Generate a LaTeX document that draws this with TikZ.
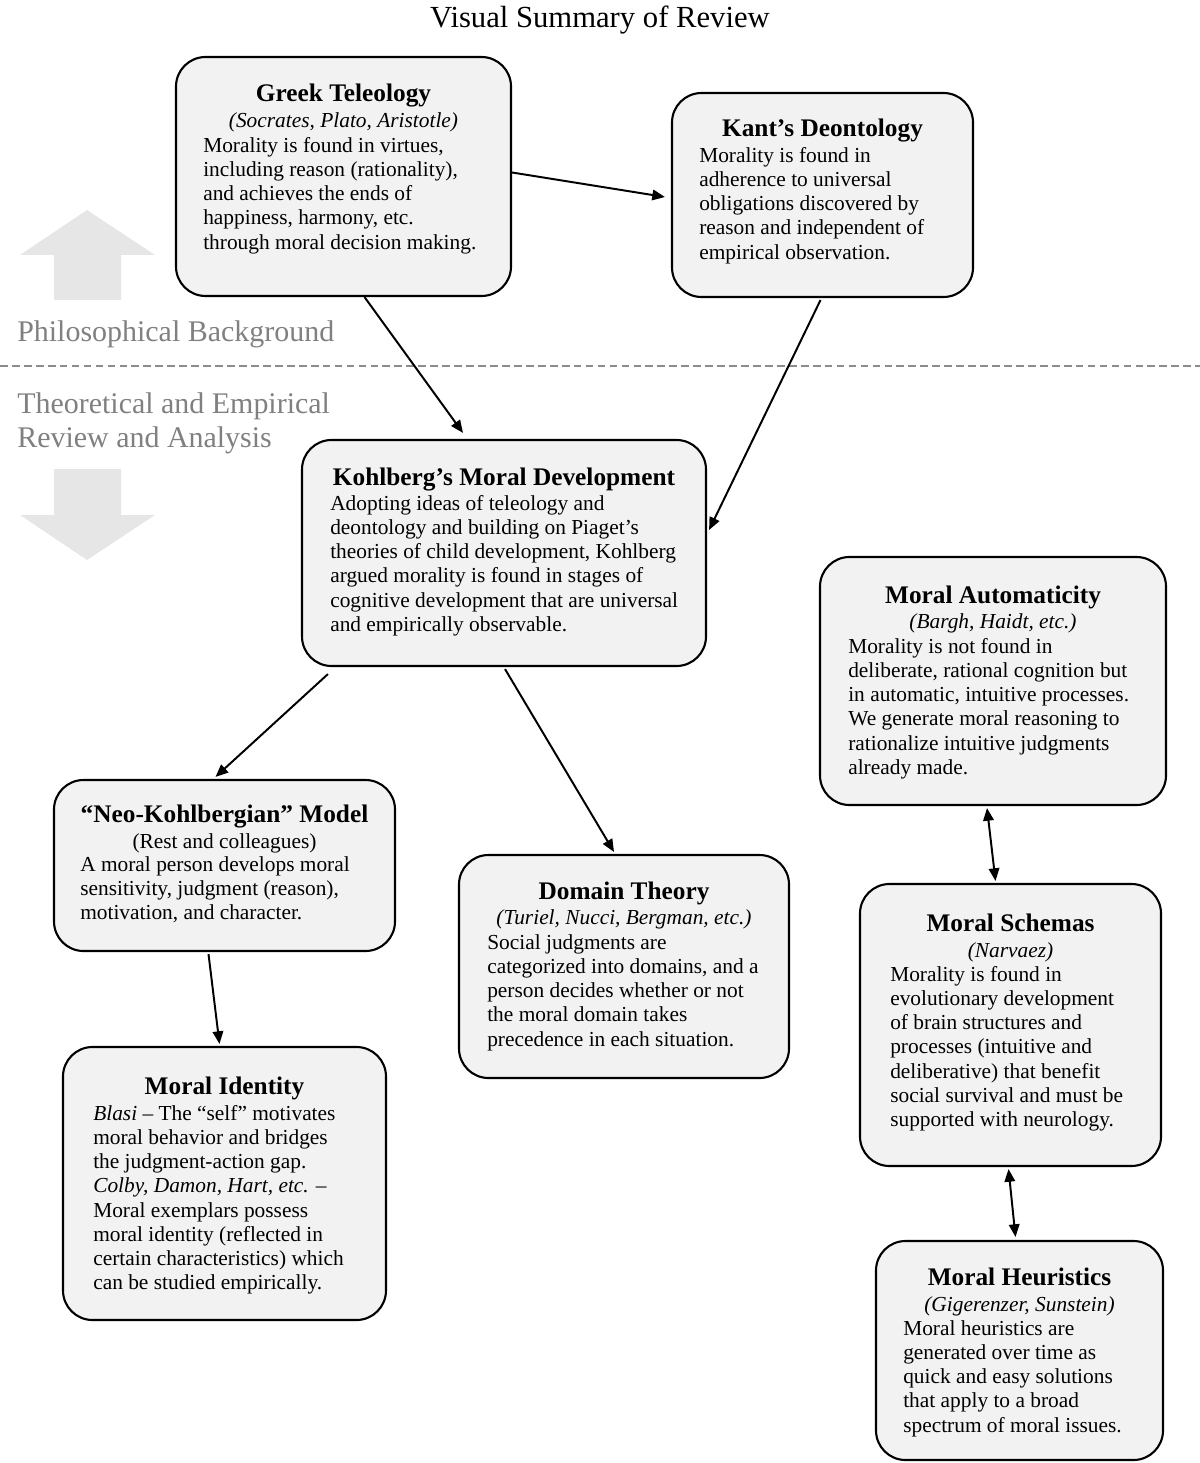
\documentclass[tikz,border=0pt]{standalone}
\usepackage{fontspec}
\setmainfont{Liberation Serif}
\usetikzlibrary{arrows.meta,fit,calc}
\definecolor{boxfill}{HTML}{F2F2F2}
\definecolor{labelgray}{HTML}{808080}
\definecolor{arrowgray}{HTML}{E6E6E6}
\definecolor{dashgray}{HTML}{8C8C8C}
\newcommand\bodyfont{\fontsize{15.2}{17.2}\selectfont}
\newcommand\titlefont{\fontsize{18}{21}\selectfont\bfseries}
\newcommand\biglabelfont{\fontsize{21.3}{24.2}\selectfont}
\tikzset{
  box/.style={draw=black, line width=1.5pt, fill=boxfill, rounded corners=21pt, inner sep=0pt},
  ttl/.style={font=\titlefont, anchor=base, inner sep=0pt},
  sub/.style={font=\bodyfont\itshape, anchor=base, inner sep=0pt},
  bodytxt/.style={font=\bodyfont, align=left, anchor=north west, inner sep=0pt, yshift=11.3pt},
  conn/.style={line width=1.4pt, -{Triangle[length=9pt,width=7.5pt]}},
  conntwo/.style={line width=1.4pt, {Triangle[length=9pt,width=7.5pt]}-{Triangle[length=9pt,width=7.5pt]}},
  biglabel/.style={font=\biglabelfont, text=labelgray, anchor=base west, inner sep=0pt},
  bigarrow/.style={fill=arrowgray, draw=none}
}
\begin{document}
\begin{tikzpicture}[x=0.025cm,y=-0.025cm]
\useasboundingbox (0,0) rectangle (1200,1463);

% heading
\node[font=\fontsize{21.8}{24}\selectfont, anchor=base, inner sep=0pt] (heading) at (600,27.5) {Visual Summary of Review};

% side decorations
\fill[bigarrow] (87,210) -- (155,255) -- (121,255) -- (121,300) -- (54,300) -- (54,255) -- (20,255) -- cycle;
\fill[bigarrow] (87,560) -- (155,515) -- (121,515) -- (121,469) -- (54,469) -- (54,515) -- (20,515) -- cycle;
\node[biglabel] (philo) at (17,342) {Philosophical Background};
\node[biglabel] (theo1) at (17,413) {Theoretical and Empirical};
\node[biglabel] (theo2) at (17,447) {Review and Analysis};
\draw[dashgray, line width=1.1pt, dash pattern=on 5.5pt off 3pt] (0,366) -- (1200,366);

% boxes
\node[box, fit={(176,57)(511,296)}] (greek) {};
\node[box, fit={(672,93)(973,297)}] (kant) {};
\node[box, fit={(302,440)(706,666)}] (kohl) {};
\node[box, fit={(820,557)(1166,805)}] (auto) {};
\node[box, fit={(54,780)(395,951)}] (neo) {};
\node[box, fit={(459,855)(789,1078)}] (domain) {};
\node[box, fit={(860,884)(1161,1166)}] (schema) {};
\node[box, fit={(63,1047)(386,1320)}] (ident) {};
\node[box, fit={(876,1241)(1163,1460)}] (heur) {};

% Greek
\node[ttl] (greekT) at (343.5,102) {Greek Teleology};
\node[sub] (greekS) at (343.5,128) {(Socrates, Plato, Aristotle)};
\node[bodytxt] (greekB) at (203,151) {\strut Morality is found in virtues,\\including reason (rationality),\\and achieves the ends of\\happiness, harmony, etc.\\through moral decision making.};

% Kant
\node[ttl] (kantT) at (822.5,137) {Kant’s Deontology};
\node[bodytxt] (kantB) at (699,161) {\strut Morality is found in\\adherence to universal\\obligations discovered by\\reason and independent of\\empirical observation.};

% Kohlberg
\node[ttl] (kohlT) at (504,485) {Kohlberg’s Moral Development};
\node[bodytxt] (kohlB) at (330,509) {\strut Adopting ideas of teleology and\\deontology and building on Piaget’s\\theories of child development, Kohlberg\\argued morality is found in stages of\\cognitive development that are universal\\and empirically observable.};

% Automaticity
\node[ttl] (autoT) at (993,603) {Moral Automaticity};
\node[sub] (autoS) at (993,628) {(Bargh, Haidt, etc.)};
\node[bodytxt] (autoB) at (848,652) {\strut Morality is not found in\\deliberate, rational cognition but\\in automatic, intuitive processes.\\We generate moral reasoning to\\rationalize intuitive judgments\\already made.};

% Neo-Kohlbergian
\node[ttl] (neoT) at (224.5,822) {“Neo-Kohlbergian” Model};
\node[sub, font=\bodyfont] (neoS) at (224.5,848) {(Rest and colleagues)};
\node[bodytxt] (neoB) at (80,870) {\strut A moral person develops moral\\sensitivity, judgment (reason),\\motivation, and character.};

% Domain
\node[ttl] (domainT) at (624,899) {Domain Theory};
\node[sub] (domainS) at (624,924) {(Turiel, Nucci, Bergman, etc.)};
\node[bodytxt] (domainB) at (487,948) {\strut Social judgments are\\categorized into domains, and a\\person decides whether or not\\the moral domain takes\\precedence in each situation.};

% Schemas
\node[ttl] (schemaT) at (1010.5,931) {Moral Schemas};
\node[sub] (schemaS) at (1010.5,957) {(Narvaez)};
\node[bodytxt] (schemaB) at (890,980) {\strut Morality is found in\\evolutionary development\\of brain structures and\\processes (intuitive and\\deliberative) that benefit\\social survival and must be\\supported with neurology.};

% Identity
\node[ttl] (identT) at (224.5,1094) {Moral Identity};
\node[bodytxt] (identB) at (93,1119) {\strut\textit{Blasi} – The “self” motivates\\moral behavior and bridges\\the judgment-action gap.\\\textit{Colby, Damon, Hart, etc.} –\\Moral exemplars possess\\moral identity (reflected in\\certain characteristics) which\\can be studied empirically.};

% Heuristics
\node[ttl] (heurT) at (1019.5,1285) {Moral Heuristics};
\node[sub] (heurS) at (1019.5,1311) {(Gigerenzer, Sunstein)};
\node[bodytxt] (heurB) at (903,1334) {\strut Moral heuristics are\\generated over time as\\quick and easy solutions\\that apply to a broad\\spectrum of moral issues.};

% connectors
\draw[conn] ($(greek.east)+(0,-4)$) -- ($(kant.west)+(-6,2)$);
\draw[conn] ($(greek.south)+(21,0)$) -- ($(kohl.north)+(-41,-6)$);
\draw[conn] ($(kant.south)+(-2,2)$) -- ($(kohl.east)+(2,-23)$);
\draw[conn] ($(kohl.south west)+(27,7)$) -- ($(neo.north)+(-9,-2)$);
\draw[conn] ($(kohl.south)+(1,2)$) -- ($(domain.north)+(-10,-2)$);
\draw[conn] ($(neo.south)+(-16,2)$) -- ($(ident.north)+(-5,-2)$);
\draw[conntwo] ($(auto.south)+(-6,2)$) -- ($(schema.north)+(-15,-2)$);
\draw[conntwo] ($(schema.south)+(-2,2)$) -- ($(heur.north)+(-4,-3)$);
\end{tikzpicture}
\end{document}
